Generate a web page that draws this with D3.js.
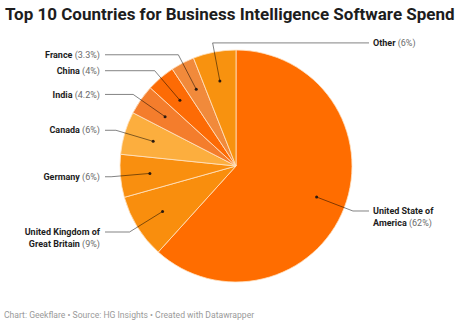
<!DOCTYPE html>
<html>
<head>
<meta charset="utf-8">
<script src="https://cdn.jsdelivr.net/npm/d3@7"></script>
<style>
  html, body { margin: 0; padding: 0; background: #fff; }
  svg { display: block; font-family: Roboto, "Noto Sans", sans-serif; }
</style>
</head>
<body>
<svg id="chart" width="474" height="324"></svg>
<script>
// Share of business intelligence software spend, clockwise from 12 o'clock
const countries = ["United State of America", "United Kingdom of Great Britain", "Germany", "Canada", "India", "China", "France", "Other"];
const shares = [62, 9, 6, 6, 4.2, 4, 3.3, 6];
const shareLabels = ["62%", "9%", "6%", "6%", "4.2%", "4%", "3.3%", "6%"];
// label text split into lines
const labelLines = [
  ["United State of", "America"],
  ["United Kingdom of", "Great Britain"],
  ["Germany"], ["Canada"], ["India"], ["China"], ["France"], ["Other"]
];
const sliceColors = ["#ff6d00", "#f98e0d", "#f98f0f", "#fcae3e", "#f47d2c", "#fd6b05", "#f18a3b", "#f8920f"];

const svg = d3.select("#chart");
const cx = 236, cy = 166, R = 116;

// title
svg.append("text")
  .attr("x", 5).attr("y", 20)
  .attr("font-size", 17).attr("font-weight", 700).attr("fill", "#1d1d1d")
  .text("Top 10 Countries for Business Intelligence Software Spend");

// footer
svg.append("text")
  .attr("x", 4).attr("y", 318)
  .attr("font-size", 8.6).attr("fill", "#9a9a9a")
  .text("Chart: Geekflare \u2022 Source: HG Insights \u2022 Created with Datawrapper");

const data = countries.map((c, i) => ({ name: c, value: shares[i], label: shareLabels[i], lines: labelLines[i], color: sliceColors[i] }));

const pie = d3.pie().sort(null).value(d => d.value);
const arcs = pie(data);
const arc = d3.arc().innerRadius(0).outerRadius(R);

const g = svg.append("g").attr("transform", `translate(${cx},${cy})`);

g.selectAll("path.slice")
  .data(arcs)
  .join("path")
  .attr("class", "slice")
  .attr("d", arc)
  .attr("fill", d => d.data.color)
  .attr("stroke", "#ffe3c4")
  .attr("stroke-width", 0.8)
  .attr("stroke-linejoin", "round");

// leader lines: dot inside slice -> elbow outside -> horizontal run to label
const dotR = R * 0.745, elbowR = R * 1.08;
const leftTextX = 100 - cx, rightTextX = 373 - cx;
const polar = (a, r) => [r * Math.sin(a), -r * Math.cos(a)];

const lbl = g.selectAll("g.lbl").data(arcs).join("g").attr("class", "lbl");

lbl.each(function (d) {
  const sel = d3.select(this);
  const mid = (d.startAngle + d.endAngle) / 2;
  const p0 = polar(mid, dotR);
  const p1 = polar(mid, elbowR);
  // labels whose elbow sits near the top go to the right column
  const right = p1[0] > -R * 0.3;
  const endX = right ? rightTextX - 4 : leftTextX + 5;
  sel.append("path")
    .attr("d", d3.line()([p0, p1, [endX, p1[1]]]))
    .attr("fill", "none")
    .attr("stroke", "rgba(0,0,0,0.55)")
    .attr("stroke-width", 0.9);
  sel.append("circle")
    .attr("cx", p0[0]).attr("cy", p0[1]).attr("r", 1.5)
    .attr("fill", "#2a1a10");

  const t = sel.append("text")
    .attr("x", right ? rightTextX : leftTextX)
    .attr("y", p1[1] + 3.2)
    .attr("text-anchor", right ? "start" : "end")
    .attr("font-size", 9)
    .attr("fill", "#1d1d1d");
  const lines = d.data.lines;
  lines.forEach((ln, i) => {
    const ts = t.append("tspan")
      .attr("x", right ? rightTextX : leftTextX)
      .attr("dy", i === 0 ? 0 : 11.5);
    ts.append("tspan").attr("font-weight", 700).text(ln);
    if (i === lines.length - 1) {
      ts.append("tspan").attr("fill", "#6b6b6b").text(" (" + d.data.label + ")");
    }
  });
});
</script>
</body>
</html>
